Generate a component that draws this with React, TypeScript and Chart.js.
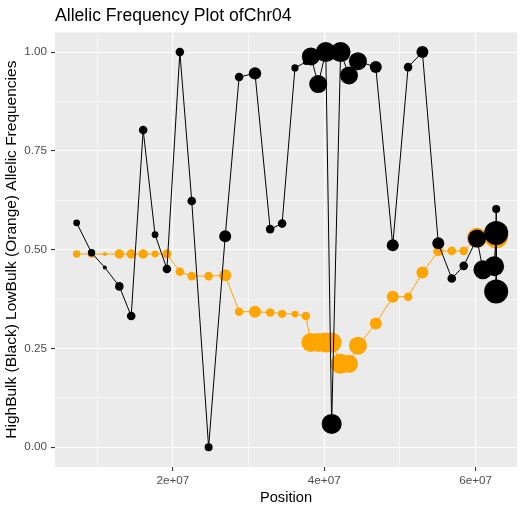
import React, { useEffect, useRef } from "react";
import { Chart, registerables } from "chart.js";

Chart.register(...registerables);

// ---- data (positions in bp) ----
const positions = [
  7.28e6, 9.25e6, 1.1e7, 1.292e7, 1.449e7, 1.607e7, 1.764e7, 1.921e7, 2.092e7, 2.249e7,
  2.472e7, 2.691e7, 2.875e7, 3.085e7, 3.285e7, 3.443e7, 3.613e7, 3.757e7, 3.823e7, 3.92e7,
  4.02e7, 4.098e7, 4.216e7, 4.327e7, 4.445e7, 4.681e7, 4.905e7, 5.108e7, 5.297e7, 5.507e7,
  5.685e7, 5.843e7, 6.018e7, 6.097e7, 6.245e7, 6.272e7, 6.272e7, 6.272e7,
];
const highBulk = [
  0.568, 0.492, 0.455, 0.407, 0.332, 0.803, 0.538, 0.451, 1.0, 0.623,
  0.0, 0.534, 0.937, 0.946, 0.552, 0.566, 0.96, 0.975, 0.989, 0.919,
  1.0, 0.059, 1.0, 0.941, 0.977, 0.962, 0.511, 0.962, 1.0, 0.516,
  0.427, 0.459, 0.528, 0.449, 0.458, 0.542, 0.603, 0.394,
];
const lowBulk = [
  0.489, 0.489, 0.489, 0.489, 0.489, 0.489, 0.489, 0.489, 0.444, 0.433,
  0.433, 0.435, 0.343, 0.343, 0.341, 0.338, 0.337, 0.332, 0.265, 0.265,
  0.265, 0.265, 0.211, 0.211, 0.257, 0.313, 0.381, 0.381, 0.442, 0.496,
  0.497, 0.497, 0.53, 0.53, 0.53, 0.534, 0.53, 0.53,
];
// point sizes (depth-mapped size in the source plot)
const highBulkSize = [
  3.4, 3.7, 2.0, 4.3, 4.3, 4.3, 3.4, 4.3, 4.3, 4.3,
  4.0, 6.0, 4.3, 6.2, 4.3, 4.3, 3.6, 3.0, 9.0, 9.0,
  10, 10, 10, 9, 9, 6, 6, 4.3, 6, 6,
  4.3, 4.3, 9, 9.5, 10, 12, 4, 12,
];
const lowBulkSize = [
  3.7, 3.7, 2.0, 4.7, 4.7, 4.7, 3.4, 4.7, 4.3, 4.3,
  4.3, 6.0, 4.3, 6.0, 4.3, 4.0, 3.4, 4.3, 9.5, 9.5,
  10, 10, 10, 9, 9, 6, 6, 4.3, 6, 5,
  4.3, 4.3, 10, 2, 2, 12, 2, 2,
];

const titleText = "Allelic Frequency Plot ofChr04";
const xTitle = "Position";
const yTitle = "HighBulk (Black) LowBulk (Orange) Allelic Frequencies";

const xMajorTicks = [2e7, 4e7, 6e7];
const xMajorLabels = ["2e+07", "4e+07", "6e+07"];
const xMinorTicks = [1e7, 3e7, 5e7];
const yMajorTicks = [0, 0.25, 0.5, 0.75, 1.0];
const yMajorLabels = ["0.00", "0.25", "0.50", "0.75", "1.00"];
const yMinorTicks = [0.125, 0.375, 0.625, 0.875];

const FONT = "'Liberation Sans', Arial, sans-serif";

const isIn = (arr: number[], v: number) => arr.some((a) => Math.abs(a - v) < 1e-6 * Math.max(1, Math.abs(a)));

const panelBg = {
  id: "panelBg",
  beforeDraw(chart: any) {
    const { ctx, chartArea } = chart;
    ctx.save();
    ctx.fillStyle = "#FFFFFF";
    ctx.fillRect(0, 0, chart.width, chart.height);
    ctx.fillStyle = "#EBEBEB";
    ctx.fillRect(chartArea.left, chartArea.top, chartArea.right - chartArea.left, chartArea.bottom - chartArea.top);
    ctx.restore();
  },
};

export default function App() {
  const ref = useRef<HTMLCanvasElement | null>(null);
  useEffect(() => {
    if (!ref.current) return;
    const highData = positions.map((x, i) => ({ x, y: highBulk[i] }));
    const lowData = positions.map((x, i) => ({ x, y: lowBulk[i] }));
    const chart = new Chart(ref.current, {
      type: "scatter",
      data: {
        datasets: [
          {
            label: "HighBulk",
            data: highData,
            showLine: true,
            borderColor: "#000000",
            borderWidth: 1,
            backgroundColor: "#000000",
            pointBackgroundColor: "#000000",
            pointBorderWidth: 0,
            pointRadius: highBulkSize,
            pointHoverRadius: highBulkSize,
            tension: 0,
            order: 0,
          },
          {
            label: "LowBulk",
            data: lowData,
            showLine: true,
            borderColor: "#FFA500",
            borderWidth: 1,
            backgroundColor: "#FFA500",
            pointBackgroundColor: "#FFA500",
            pointBorderWidth: 0,
            pointRadius: lowBulkSize,
            pointHoverRadius: lowBulkSize,
            tension: 0,
            order: 1,
          },
        ],
      },
      options: {
        animation: false,
        responsive: false,
        devicePixelRatio: 1,
        layout: { padding: { left: 0, right: 8, top: 0, bottom: 0 } },
        plugins: {
          legend: { display: false },
          tooltip: { enabled: false },
          title: {
            display: true,
            text: titleText,
            align: "start",
            fullSize: false,
            color: "#000000",
            font: { family: FONT, size: 17.6, weight: "normal", lineHeight: 1.2 },
            padding: { top: 6, bottom: 5.2 },
          },
        },
        scales: {
          x: {
            type: "linear",
            min: 4.42e6,
            max: 6.547e7,
            afterBuildTicks: (scale: any) => {
              scale.ticks = [...xMinorTicks, ...xMajorTicks].sort((a, b) => a - b).map((v) => ({ value: v }));
            },
            afterFit: (scale: any) => {
              scale.height = 45;
            },
            ticks: {
              autoSkip: false,
              maxRotation: 0,
              padding: 3,
              color: "#4D4D4D",
              font: { family: FONT, size: 11.7 },
              callback: (v: any) => {
                const i = xMajorTicks.findIndex((a) => Math.abs(a - Number(v)) < 1);
                return i >= 0 ? xMajorLabels[i] : "";
              },
            },
            grid: {
              color: "#FFFFFF",
              lineWidth: (c: any) => (c.tick && isIn(xMajorTicks, c.tick.value) ? 1.1 : 0.55),
              tickColor: (c: any) => (c.tick && isIn(xMajorTicks, c.tick.value) ? "#333333" : "rgba(0,0,0,0)"),
              tickLength: 4,
              tickWidth: 1.1,
            },
            border: { display: false },
            title: {
              display: true,
              text: xTitle,
              color: "#000000",
              font: { family: FONT, size: 14.67, lineHeight: 1.2 },
              padding: { top: 0, bottom: 5 },
            },
          },
          y: {
            type: "linear",
            min: -0.05,
            max: 1.05,
            afterBuildTicks: (scale: any) => {
              scale.ticks = [...yMinorTicks, ...yMajorTicks].sort((a, b) => a - b).map((v) => ({ value: v }));
            },
            afterFit: (scale: any) => {
              scale.width = 55;
            },
            ticks: {
              autoSkip: false,
              padding: 4,
              color: "#4D4D4D",
              font: { family: FONT, size: 11.7 },
              callback: (v: any) => {
                const i = yMajorTicks.findIndex((a) => Math.abs(a - Number(v)) < 1e-6);
                return i >= 0 ? yMajorLabels[i] : "";
              },
            },
            grid: {
              color: "#FFFFFF",
              lineWidth: (c: any) => (c.tick && isIn(yMajorTicks, c.tick.value) ? 1.1 : 0.55),
              tickColor: (c: any) => (c.tick && isIn(yMajorTicks, c.tick.value) ? "#333333" : "rgba(0,0,0,0)"),
              tickLength: 4,
              tickWidth: 1.1,
            },
            border: { display: false },
            title: {
              display: true,
              text: yTitle,
              color: "#000000",
              font: { family: FONT, size: 15.5, lineHeight: 1.2 },
              padding: { top: 2.5, bottom: 0 },
            },
          },
        },
      },
      plugins: [panelBg],
    } as any);
    return () => chart.destroy();
  }, []);
  return (
    <div style={{ position: "absolute", left: 0, top: 0, width: 529, height: 512 }}>
      <canvas ref={ref} width={529} height={512} style={{ width: 529, height: 512, display: "block" }} />
    </div>
  );
}
